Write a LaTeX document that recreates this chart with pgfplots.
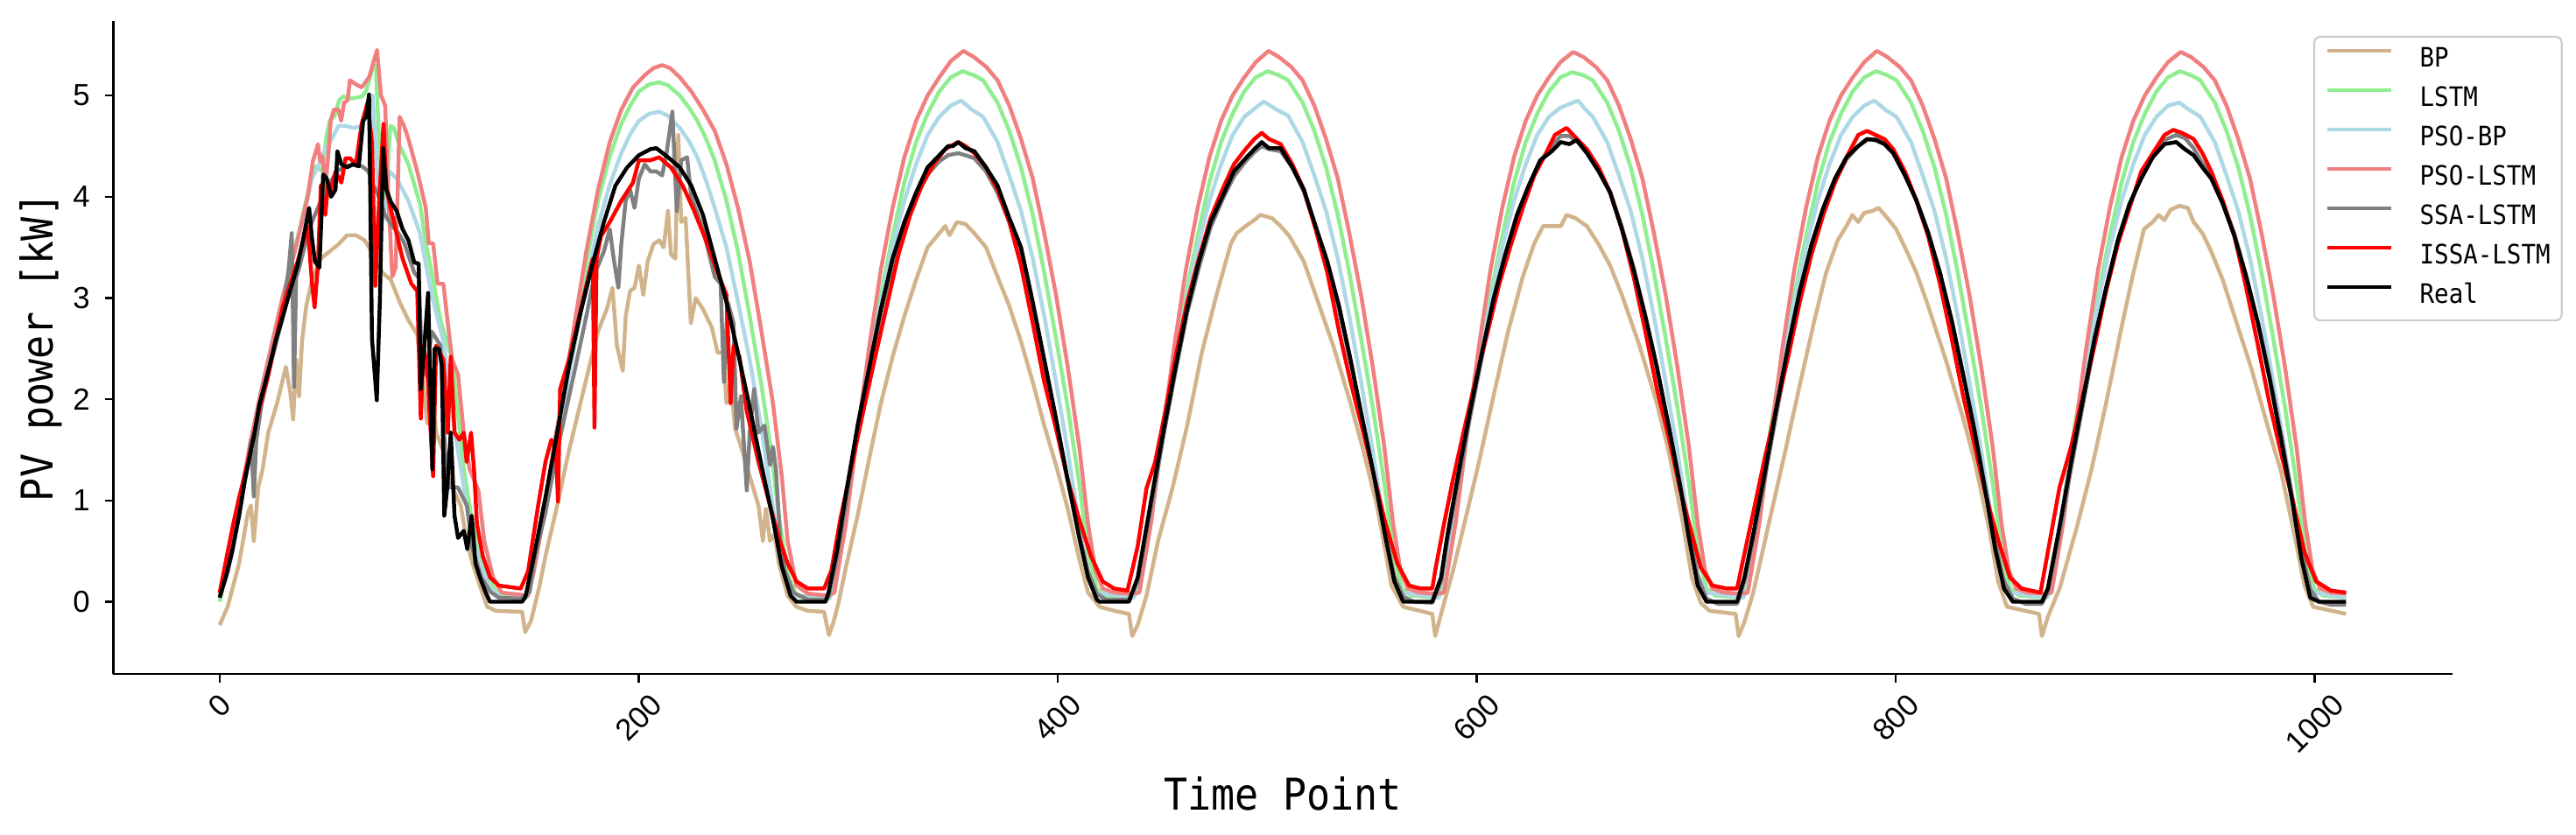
\documentclass[border=0pt]{standalone}
\usepackage{fontspec}
\usepackage{pgfplots}
\pgfplotsset{compat=1.18}
\setmainfont{DejaVu Sans Mono}[FakeStretch=0.9]
\newfontfamily\tickfont{Liberation Sans}
\definecolor{cBP}{HTML}{D2B48C}
\definecolor{cLSTM}{HTML}{90EE90}
\definecolor{cPSOBP}{HTML}{ADD8E6}
\definecolor{cPSOLSTM}{HTML}{F08080}
\definecolor{cSSA}{HTML}{808080}
\definecolor{cISSA}{HTML}{FF0000}
\begin{document}
\begin{tikzpicture}
\useasboundingbox (-46.6pt,-65.9pt) rectangle (1012.5pt,277.2pt);
\begin{axis}[
  at={(0pt,0pt)}, anchor=south west,
  scale only axis, width=961.7pt, height=268.6pt,
  xmin=-50.75, xmax=1065.75, ymin=-0.7135, ymax=5.7365,
  axis x line*=bottom, axis y line*=left,
  axis line style={-, line width=0.8pt, black},
  tick align=outside, major tick length=3.5pt,
  tick style={line width=0.8pt, black},
  xtick={0,200,400,600,800,1000},
  xticklabels={{\rotatebox{45}{0}},{\rotatebox{45}{200}},{\rotatebox{45}{400}},{\rotatebox{45}{600}},{\rotatebox{45}{800}},{\rotatebox{45}{1000}}},
  ytick={0,1,2,3,4,5}, yticklabels={0,1,2,3,4,5},
  xticklabel style={font=\tickfont\fontsize{12.5}{14}\selectfont, anchor=north, inner sep=0pt, yshift=-3.8pt},
  yticklabel style={font=\tickfont\fontsize{12.5}{14}\selectfont, anchor=east, inner sep=0pt, xshift=-5.9pt},
  xlabel={Time Point}, ylabel={PV power [kW]},
  xlabel style={font=\fontsize{18}{20}\selectfont, at={(axis description cs:0.5,-0.1836)}, anchor=center},
  ylabel style={font=\fontsize{18}{20}\selectfont, at={(axis description cs:-0.03088,0.5)}, anchor=center},
  legend style={at={(axis description cs:0.9405,0.9773)}, anchor=north west, draw=black!20, line width=0.8pt,
    rounded corners=2.5pt, fill=white, font=\fontsize{11}{13}\selectfont,
    inner xsep=4.7pt, inner ysep=4.5pt, row sep=5.7pt, column sep=10.8pt,
    nodes={inner sep=0pt, text height=8pt, text depth=2.5pt}},
  legend cell align=left,
  legend image code/.code={\draw[#1] (0pt,3.9pt) -- (26.3pt,3.9pt);},
]
% BP
\addplot[cBP, line width=1.6pt, line join=round] coordinates {
(0,-0.23)(3.8,-0.05)(9.3,0.38)(13.5,0.88)(14.9,0.95)(16.3,0.6)(18.4,1.13)(20.5,1.31)(23.2,1.67)(27.4,1.96)(31.6,2.32)(33.7,2.07)(35.1,1.8)(36.5,2.39)(37.9,2.03)(39.3,2.57)(41.3,2.92)(44.1,3.18)(48.3,3.39)(52.5,3.46)(56.7,3.53)(60.8,3.62)(65,3.62)(69.2,3.57)(73.4,3.43)(77.6,3.25)(81.7,3.18)(85.9,2.96)(90.1,2.78)(94.3,2.64)(96.4,2.28)(99.1,1.76)(101.2,2.1)(103.3,1.67)(106.8,1.49)(111,1.13)(115.1,0.95)(117.9,0.6)(120.7,0.38)(123.5,0.2)(127.7,-0.05)(131.9,-0.09)(144.4,-0.1)(145.8,-0.3)(148.6,-0.19)(152.7,0.16)
(155.5,0.45)(161.1,0.95)(166.7,1.49)(172.2,1.96)(176.4,2.32)(180.6,2.67)(184.8,2.89)(187.5,3.1)(189.6,2.53)(192.4,2.28)(193.8,2.82)(195.9,3.07)(198,3.1)(200.1,3.32)(202.2,3.03)(204.3,3.36)(207,3.53)(209.8,3.57)(211.9,3.5)(214,3.86)(215.4,3.43)(217.5,3.39)(218.9,4.61)(220.3,3.75)(222.4,3.79)(224.9,2.75)(227.2,3.0)(230.7,2.89)(234.9,2.71)(237.7,2.46)(240.5,2.46)(241.9,1.96)(244,2.17)(246,1.71)(249.5,1.49)(253,1.24)(257.2,0.95)(259.3,0.6)(260.7,0.92)(262.7,0.6)(264.8,0.67)(266.9,0.38)(271.1,0.06)(275.3,-0.05)(280.8,-0.09)(288.5,-0.1)(290.8,-0.33)(293,-0.2)(295.5,0.0)
(298.9,0.34)(304.5,0.85)(310.1,1.42)(315.6,1.96)(321.2,2.42)(326.8,2.82)(332.4,3.18)(337.9,3.5)(343.5,3.64)(346.3,3.71)(348.4,3.62)(351.9,3.75)(356,3.73)(360.2,3.64)(365.8,3.5)(371.3,3.21)(376.9,2.92)(382.5,2.57)(388.1,2.17)(393.6,1.74)(399.2,1.35)(404.8,0.92)(410.3,0.42)(414.5,0.09)(420.1,-0.05)(427,-0.09)(434,-0.12)(435.6,-0.34)(438.2,-0.23)
(442.4,0.06)(447.9,0.6)(454.9,1.13)(461.8,1.74)(468.8,2.46)(475.8,3.03)(482.7,3.54)(485.5,3.64)(489.7,3.71)(493.9,3.77)(496.7,3.82)(502.2,3.79)(506.4,3.71)(510.6,3.61)(517.5,3.36)(523.1,3.03)(531.5,2.53)(539.8,1.96)(545.4,1.53)(552.4,0.95)(556.5,0.49)(559.3,0.16)(564.9,-0.05)(578.8,-0.12)(580.2,-0.34)(583,-0.12)
(588.6,0.3)(594.1,0.77)(601.1,1.38)(608,2.03)(615,2.67)(622,3.21)(627.5,3.54)(631.7,3.71)(635.9,3.71)(640.1,3.71)(642.9,3.82)(647,3.79)(652.6,3.71)(658.2,3.53)(663.7,3.32)(669.3,3.03)(677.7,2.53)(686,1.96)(691.6,1.49)(698.5,0.77)(702.7,0.24)(706.9,-0.01)(711.1,-0.09)(723.6,-0.12)(725,-0.34)(727.8,-0.2)
(732,0.09)(740.3,0.85)(747.3,1.49)(754.2,2.14)(761.2,2.78)(766.8,3.25)(772.3,3.57)(776.5,3.71)(779.3,3.82)(782.1,3.75)(784.9,3.84)(789,3.86)(791.8,3.89)(796,3.79)(800.2,3.68)(804.4,3.5)(809.9,3.25)(815.5,2.92)(823.9,2.39)(832.2,1.81)(837.8,1.38)(844.8,0.7)(848.9,0.2)(853.1,-0.05)(868.4,-0.12)(869.8,-0.34)(872.6,-0.15)
(878.2,0.13)(886.5,0.74)(893.5,1.31)(900.4,1.96)(907.4,2.67)(913,3.21)(918.5,3.68)(922.7,3.75)(925.5,3.82)(928.3,3.77)(931.1,3.87)(935.3,3.91)(939.4,3.89)(942.2,3.75)(946.4,3.64)(950.6,3.46)(956.1,3.18)(961.7,2.82)(970.1,2.28)(978.4,1.67)(984,1.28)(990.9,0.6)(995.1,0.16)(999.3,-0.05)(1015,-0.12)
};
\addlegendentry{BP}
% LSTM
\addplot[cLSTM, line width=1.6pt, line join=round] coordinates {
(0,0.0)(5,0.5)(10,1.05)(15,1.6)(20,2.1)(25,2.55)(30,3.0)(35,3.4)(40,3.85)(44,4.2)(46,4.3)(49,4.25)(51,4.6)(52.5,4.75)(55,4.8)(57,4.95)(59,4.99)(63,4.97)(68,4.99)(70,5.05)(72.7,5.25)(74.5,5.3)(76,4.6)(78,3.9)(80,4.2)(81.5,4.7)(83.1,4.68)(86,4.5)(90.1,4.32)(95.6,3.93)(98.4,3.54)(101.2,3.25)(105.4,2.78)(111,2.39)(116.5,1.31)(120.7,0.77)(127.7,0.24)(133.2,0.06)(145,0.03)
(147,0.05)(150,0.35)(155.5,0.95)(161.1,1.65)(165,2.15)(169.4,2.67)(175,3.35)(180.6,3.96)(186.2,4.4)(191.7,4.72)(196,4.9)(200.1,5.04)(205,5.11)(209.8,5.13)(214,5.1)(219.6,5.0)(224,4.88)(228,4.75)(232,4.58)(236.3,4.36)(241.9,3.96)(247.4,3.46)(253,2.82)(258.6,2.14)(262.7,1.56)(266.9,0.85)(271.1,0.27)(275.3,0.06)(280,0.03)(291,0.03)
(293.4,0.16)(298.9,0.95)(304.5,1.74)(310.1,2.39)(315.6,3.03)(321.2,3.61)(326.8,4.14)(332.4,4.54)(337.9,4.82)(343.5,5.04)(349,5.18)(354.6,5.24)(360,5.2)(364.4,5.15)(371.3,4.93)(376.9,4.65)(382.5,4.29)(388.1,3.82)(393.6,3.25)(399.2,2.6)(404.8,1.92)(410.3,1.17)(414.5,0.49)(418.7,0.13)(422.9,0.06)(436,0.04)
(439,0.16)(444.5,0.95)(450.1,1.74)(455.7,2.39)(461.2,3.03)(466.8,3.61)(472.4,4.14)(478,4.54)(483.5,4.82)(489.1,5.04)(494.6,5.18)(500.2,5.24)(505.6,5.2)(510,5.15)(516.9,4.93)(522.5,4.65)(528.1,4.29)(533.7,3.82)(539.2,3.25)(544.8,2.6)(550.4,1.92)(555.9,1.17)(560.1,0.49)(564.3,0.13)(568.5,0.06)(581.6,0.04)
(584.4,0.16)(589.9,0.95)(595.5,1.74)(601.1,2.39)(606.6,3.03)(612.2,3.61)(617.8,4.14)(623.4,4.54)(628.9,4.82)(634.5,5.04)(640,5.18)(645.6,5.23)(651,5.2)(655.4,5.15)(662.3,4.93)(667.9,4.65)(673.5,4.29)(679.1,3.82)(684.6,3.25)(690.2,2.6)(695.8,1.92)(701.3,1.17)(705.5,0.49)(709.7,0.13)(713.9,0.06)(727,0.04)
(729.4,0.16)(734.9,0.95)(740.5,1.74)(746.1,2.39)(751.6,3.03)(757.2,3.61)(762.8,4.14)(768.4,4.54)(773.9,4.82)(779.5,5.04)(785,5.18)(790.6,5.24)(796,5.2)(800.4,5.15)(807.3,4.93)(812.9,4.65)(818.5,4.29)(824.1,3.82)(829.6,3.25)(835.2,2.6)(840.8,1.92)(846.3,1.17)(850.5,0.49)(854.7,0.13)(858.9,0.06)(872,0.04)
(874.4,0.16)(879.9,0.95)(885.5,1.74)(891.1,2.39)(896.6,3.03)(902.2,3.61)(907.8,4.14)(913.4,4.54)(918.9,4.82)(924.5,5.04)(930,5.18)(935.6,5.24)(941,5.2)(945.4,5.15)(952.3,4.93)(957.9,4.65)(963.5,4.29)(969.1,3.82)(974.6,3.25)(980.2,2.6)(985.8,1.92)(991.3,1.17)(995.5,0.49)(999.7,0.13)(1003.9,0.06)(1015,0.04)
};
\addlegendentry{LSTM}
% PSO-BP
\addplot[cPSOBP, line width=1.6pt, line join=round] coordinates {
(0,0.03)(5,0.5)(10,1.05)(15,1.6)(20,2.1)(25,2.55)(30,3.0)(35,3.4)(40,3.8)(44.1,4.18)(47,4.3)(50,4.45)(53,4.55)(56.7,4.7)(60,4.7)(64,4.68)(67.8,4.7)(71.3,4.97)(73,5.0)(75,4.3)(77,3.7)(79,3.9)(81,4.25)(84.5,4.18)(90.1,3.96)(95.6,3.64)(101.2,3.03)(106.8,2.57)(112.4,1.67)(117.9,0.95)(123.5,0.42)(129.1,0.13)(135,0.04)(145,0.04)
(147,0.05)(150,0.38)(155.5,0.95)(161.1,1.62)(165,2.05)(169.4,2.53)(175,3.15)(180.6,3.71)(186.2,4.12)(191.7,4.43)(196,4.62)(200.1,4.75)(205,4.82)(209.8,4.84)(214,4.8)(219.6,4.68)(224,4.55)(228,4.39)(232,4.17)(236.3,3.89)(241.9,3.5)(247.4,2.96)(253,2.39)(258.6,1.71)(262.7,1.13)(266.9,0.52)(271.1,0.16)(275.3,0.06)(291,0.04)
(293.4,0.12)(298.9,0.95)(304.5,1.7)(310.1,2.35)(315.6,2.96)(321.2,3.5)(326.8,3.96)(332.4,4.32)(337.9,4.61)(343.5,4.79)(349,4.9)(353.9,4.95)(359,4.86)(364.4,4.79)(371.3,4.54)(376.9,4.21)(382.5,3.86)(388.1,3.39)(393.6,2.82)(399.2,2.17)(404.8,1.49)(410.3,0.74)(414.5,0.27)(418.7,0.09)(436,0.04)
(439,0.12)(444.5,0.95)(450.1,1.7)(455.7,2.35)(461.2,2.96)(466.8,3.5)(472.4,3.96)(478,4.32)(483.5,4.61)(489.1,4.79)(494.6,4.88)(498.3,4.94)(504.6,4.86)(510,4.8)(516.9,4.54)(522.5,4.21)(528.1,3.86)(533.7,3.39)(539.2,2.82)(544.8,2.17)(550.4,1.49)(555.9,0.74)(560.1,0.27)(564.3,0.09)(581.6,0.04)
(584.4,0.12)(589.9,0.95)(595.5,1.7)(601.1,2.35)(606.6,2.96)(612.2,3.5)(617.8,3.96)(623.4,4.32)(628.9,4.61)(634.5,4.79)(640,4.88)(648.4,4.95)(652,4.86)(655.4,4.79)(662.3,4.54)(667.9,4.21)(673.5,3.86)(679.1,3.39)(684.6,2.82)(690.2,2.17)(695.8,1.49)(701.3,0.74)(705.5,0.27)(709.7,0.09)(727,0.04)
(729.4,0.12)(734.9,0.95)(740.5,1.7)(746.1,2.35)(751.6,2.96)(757.2,3.5)(762.8,3.96)(768.4,4.32)(773.9,4.61)(779.5,4.79)(785,4.9)(789.8,4.95)(795,4.86)(800.4,4.79)(807.3,4.54)(812.9,4.21)(818.5,3.86)(824.1,3.39)(829.6,2.82)(835.2,2.17)(840.8,1.49)(846.3,0.74)(850.5,0.27)(854.7,0.09)(872,0.04)
(874.4,0.12)(879.9,0.95)(885.5,1.7)(891.1,2.35)(896.6,2.96)(902.2,3.5)(907.8,3.96)(913.4,4.32)(918.9,4.61)(924.5,4.79)(930,4.9)(935.3,4.93)(940,4.86)(945.4,4.79)(952.3,4.54)(957.9,4.21)(963.5,3.86)(969.1,3.39)(974.6,2.82)(980.2,2.17)(985.8,1.49)(991.3,0.74)(995.5,0.27)(999.7,0.09)(1015,0.04)
};
\addlegendentry{PSO-BP}
% PSO-LSTM
\addplot[cPSOLSTM, line width=1.6pt, line join=round] coordinates {
(0,0.05)(4,0.3)(9.3,0.95)(14,1.5)(20,2.1)(25,2.55)(30,3.0)(37.2,3.57)(42,4.0)(44.5,4.35)(46.9,4.52)(48,4.35)(49,4.4)(50.5,4.1)(52,4.45)(53,4.75)(54.5,4.86)(56.7,4.86)(58,4.75)(59.4,4.93)(61,4.95)(62.2,5.15)(65,5.11)(67.8,5.08)(71.3,5.18)(73,5.3)(75.1,5.45)(77,5.0)(79,4.9)(80.5,4.0)(82.4,3.21)(84,3.3)(85.9,4.79)(88,4.7)(90.1,4.57)(94.3,4.25)(98.4,3.89)(99.8,3.54)(101.9,3.54)(104,3.14)(106.8,3.14)(108.9,2.75)(111,2.39)(113.8,2.24)(116.5,1.67)(119.3,1.31)(123.5,1.1)(126.3,0.6)(130.5,0.24)(134.6,0.09)(147.2,0.06)
(150,0.3)(155.5,0.95)(160,1.6)(163.9,2.03)(169.4,2.75)(175,3.46)(180.6,4.07)(186.2,4.54)(191.7,4.86)(197.3,5.08)(202.9,5.2)(207,5.27)(211.2,5.3)(215,5.27)(219.6,5.18)(225.1,5.04)(230.7,4.86)(236.3,4.65)(241.9,4.32)(247.4,3.89)(253,3.36)(258.6,2.67)(264.1,1.96)(268.3,1.24)(271.1,0.6)(275.3,0.16)(280.8,0.08)(290.6,0.06)
(293.4,0.09)(298.9,0.77)(304.5,1.67)(310.1,2.53)(315.6,3.28)(321.2,3.89)(326.8,4.39)(332.4,4.75)(337.9,5.0)(343.5,5.18)(349,5.34)(355,5.44)(360,5.38)(366,5.28)(371.3,5.15)(376.9,4.9)(382.5,4.57)(388.1,4.18)(393.6,3.64)(399.2,3.03)(404.8,2.32)(410.3,1.53)(414.5,0.77)(418,0.31)(421.5,0.13)(427,0.09)(434,0.08)
(439,0.09)(444.5,0.77)(450.1,1.67)(455.7,2.53)(461.2,3.28)(466.8,3.89)(472.4,4.39)(478,4.75)(483.5,5.0)(489.1,5.18)(494.6,5.33)(500.6,5.44)(505.6,5.38)(511.6,5.28)(516.9,5.15)(522.5,4.9)(528.1,4.57)(533.7,4.18)(539.2,3.64)(544.8,3.03)(550.4,2.32)(555.9,1.53)(560.1,0.77)(563.6,0.31)(567.1,0.13)(572.6,0.09)(581,0.08)
(584.4,0.09)(589.9,0.77)(595.5,1.67)(601.1,2.53)(606.6,3.28)(612.2,3.89)(617.8,4.39)(623.4,4.75)(628.9,5.0)(634.5,5.18)(640,5.33)(646,5.43)(651,5.38)(657,5.28)(662.3,5.15)(667.9,4.9)(673.5,4.57)(679.1,4.18)(684.6,3.64)(690.2,3.03)(695.8,2.32)(701.3,1.53)(705.5,0.77)(709,0.31)(712.5,0.13)(718,0.09)(726.4,0.08)
(729.4,0.09)(734.9,0.77)(740.5,1.67)(746.1,2.53)(751.6,3.28)(757.2,3.89)(762.8,4.39)(768.4,4.75)(773.9,5.0)(779.5,5.18)(785,5.33)(791,5.44)(796,5.38)(802,5.28)(807.3,5.15)(812.9,4.9)(818.5,4.57)(824.1,4.18)(829.6,3.64)(835.2,3.03)(840.8,2.32)(846.3,1.53)(850.5,0.77)(854,0.31)(857.5,0.13)(863,0.09)(872,0.08)
(874.4,0.09)(879.9,0.77)(885.5,1.67)(891.1,2.53)(896.6,3.28)(902.2,3.89)(907.8,4.39)(913.4,4.75)(918.9,5.0)(924.5,5.18)(930,5.33)(936,5.43)(941,5.38)(947,5.28)(952.3,5.15)(957.9,4.9)(963.5,4.57)(969.1,4.18)(974.6,3.64)(980.2,3.03)(985.8,2.32)(991.3,1.53)(995.5,0.77)(999,0.31)(1002.5,0.13)(1008,0.09)(1015,0.08)
};
\addlegendentry{PSO-LSTM}
% SSA-LSTM
\addplot[cSSA, line width=1.6pt, line join=round] coordinates {
(0,0.05)(5,0.4)(10,0.95)(13,1.3)(15,1.6)(16.3,1.04)(17.5,1.6)(20,1.95)(25,2.4)(30,2.8)(33,3.3)(34.4,3.64)(35.5,2.12)(36.5,3.2)(38,3.3)(41.3,3.57)(44,3.75)(46.9,3.89)(50,4.05)(53,4.15)(56,4.25)(60,4.3)(64,4.32)(68,4.3)(71,4.25)(73.4,4.11)(76,4.0)(78.9,3.82)(82,3.72)(85,3.65)(88,3.55)(92.9,3.25)(95,3.2)(96.5,2.4)(98.5,2.24)(101.2,2.67)(105.4,2.53)(107.5,1.5)(109.6,1.13)(113.7,1.13)(118,0.95)(120.7,0.52)(124.9,0.24)(129.1,0.1)(133.2,0.04)(144,0.03)
(148,0.1)(150,0.4)(155.5,0.88)(161.1,1.49)(169.4,2.28)(175,2.82)(179.2,3.25)(183.4,3.46)(186.2,3.68)(188,3.4)(190.3,3.1)(191.7,3.53)(193.8,3.96)(195.9,4.07)(198,3.89)(200.1,4.18)(202.9,4.32)(205.6,4.25)(208.4,4.25)(211.2,4.21)(213.3,4.43)(216.1,4.84)(218.2,3.86)(220.3,4.36)(223.1,4.39)(225.1,4.0)(230.7,3.68)(236.3,3.21)(239.1,3.14)(240.7,2.17)(242.5,2.96)(245.3,2.75)(246.7,1.71)(248.8,2.03)(251.6,1.1)(253,1.67)(255.1,2.1)(257.2,1.67)(260,1.74)(262.7,1.35)(264.1,1.53)(265.5,1.31)(267.6,0.6)(269.7,0.31)(273.9,0.09)(280.8,0.02)(289.2,0.02)
(290.6,0.05)(294.8,0.45)(298.9,0.98)(304.5,1.68)(310.1,2.28)(315.6,2.85)(321.2,3.33)(326.8,3.7)(332.4,3.99)(337.9,4.22)(343.5,4.35)(347.7,4.41)(352.5,4.43)(356,4.41)(360.2,4.38)(365.8,4.25)(371.3,4.04)(376.9,3.75)(382.5,3.4)(388.1,2.88)(393.6,2.32)(399.2,1.76)(404.8,1.2)(410.3,0.66)(414.5,0.3)(418.7,0.08)(423,0.02)(434,0.02)
(438.2,0.2)(445.1,1.0)(450.7,1.66)(456.3,2.28)(461.8,2.85)(467.4,3.3)(473,3.7)(478.6,3.97)(484.1,4.2)(489.7,4.35)(493.9,4.44)(497.4,4.5)(500.8,4.47)(506.4,4.45)(512,4.29)(517.5,4.05)(523.1,3.7)(528.7,3.33)(534.3,2.88)(539.8,2.36)(545.4,1.8)(551,1.24)(556.5,0.66)(560.7,0.25)(564.9,0.05)(570,0.0)(578.8,-0.01)
(583,0.2)(585.8,0.58)(591.3,1.2)(596.9,1.83)(602.5,2.42)(608,2.95)(613.6,3.4)(619.2,3.8)(624.8,4.1)(630.3,4.35)(635.9,4.5)(640.1,4.6)(644.2,4.6)(647.7,4.55)(652.6,4.45)(658.2,4.27)(663.7,4.05)(669.3,3.7)(674.9,3.3)(680.5,2.82)(686,2.3)(691.6,1.74)(697.2,1.15)(701.3,0.68)(705.5,0.25)(709.7,0.03)(715,-0.02)(724.3,-0.02)
(727.8,0.2)(732,0.62)(737.5,1.22)(743.1,1.86)(748.7,2.48)(754.2,3.02)(759.8,3.5)(765.4,3.86)(771,4.15)(776.5,4.37)(782.1,4.5)(786.3,4.56)(790.4,4.57)(794.6,4.53)(798.8,4.44)(804.4,4.22)(809.9,3.97)(815.5,3.65)(821.1,3.25)(826.7,2.78)(832.2,2.25)(837.8,1.68)(843.4,1.05)(847.5,0.58)(851.7,0.2)(855.9,0.03)(862,-0.02)(869.8,-0.02)
(872.6,0.1)(878.2,0.68)(883.7,1.32)(889.3,1.94)(894.9,2.55)(900.4,3.07)(906,3.54)(911.6,3.92)(917.2,4.2)(922.7,4.42)(928.3,4.56)(933.9,4.61)(938,4.58)(942.2,4.48)(946.4,4.33)(950.6,4.2)(956.1,3.95)(961.7,3.63)(967.3,3.22)(972.9,2.76)(978.4,2.24)(984,1.64)(989.6,1.0)(993.7,0.5)(997.9,0.12)(1002,0.0)(1008,-0.03)(1015,-0.03)
};
\addlegendentry{SSA-LSTM}
% ISSA-LSTM
\addplot[cISSA, line width=1.6pt, line join=round] coordinates {
(0,0.09)(3.8,0.49)(6.5,0.77)(9.3,1.03)(13.5,1.38)(19.1,1.92)(23.2,2.24)(30.2,2.92)(37.2,3.36)(42,3.71)(44.1,3.14)(45.3,2.91)(46.9,3.32)(48.3,4.11)(50.4,3.82)(51.8,4.14)(53.2,4.07)(55.3,4.25)(58.1,4.14)(60.1,4.38)(62.2,4.38)(65,4.32)(67.8,4.72)(70.6,4.93)(72.7,4.54)(74.3,3.12)(76.2,4.0)(78.2,4.72)(79.6,4.07)(82.4,3.82)(85.2,3.57)(87.3,3.39)(91.5,3.14)(94.3,3.07)(96,1.81)(97.3,2.53)(99.1,2.28)(101.9,1.24)(103.3,2.53)(106.8,2.39)(108.9,1.67)(110.3,2.42)(112.1,1.67)(114.4,1.6)(116.5,1.67)(117.9,1.38)(120,1.67)(121.4,1.31)(122.8,0.77)(125.6,0.45)(129.1,0.24)(133.2,0.16)(143.7,0.13)
(147.2,0.3)(152,0.95)(155.5,1.38)(158.3,1.6)(160.5,1.5)(161.5,0.99)(162.5,2.1)(166.7,2.39)(170.8,2.75)(176.4,3.25)(178.1,3.39)(178.9,1.72)(179.9,3.39)(182,3.61)(186.2,3.75)(191.7,3.96)(197.3,4.14)(200.1,4.36)(205.6,4.36)(209.8,4.39)(215.4,4.29)(221,4.11)(226.5,3.86)(232.1,3.57)(237.7,3.25)(241.9,3.03)(243.9,1.96)(245.3,2.53)(248.1,2.42)(251.6,1.88)(257.2,1.38)(262.7,0.95)(266.9,0.63)(271.1,0.38)(275.3,0.2)(280.8,0.13)(288.5,0.13)
(292,0.31)(296.2,0.81)(301.7,1.35)(307.3,1.89)(312.9,2.42)(318.4,2.92)(324,3.43)(329.6,3.82)(335.1,4.11)(340.7,4.32)(346.3,4.47)(352.5,4.54)(356,4.5)(360.2,4.43)(365.8,4.29)(371.3,4.07)(376.9,3.75)(382.5,3.32)(388.1,2.75)(393.6,2.17)(399.2,1.71)(404.8,1.2)(410.3,0.81)(415.9,0.45)(421.5,0.2)(427,0.13)(433.3,0.11)
(436,0.35)(438.2,0.55)(442.4,1.12)(446.5,1.38)(450.7,1.81)(456.3,2.42)(461.8,2.96)(467.4,3.39)(473,3.79)(478.6,4.07)(484.1,4.32)(489.7,4.47)(493.9,4.57)(497.4,4.63)(500.8,4.57)(506.4,4.52)(512,4.32)(517.5,4.07)(523.1,3.68)(528.7,3.25)(534.3,2.67)(539.8,2.17)(545.4,1.71)(551,1.24)(556.5,0.77)(562.1,0.38)(567.7,0.16)(573.2,0.13)(578.8,0.13)
(580.2,0.31)(584.4,0.77)(588.6,1.2)(594.1,1.71)(599.7,2.21)(605.3,2.67)(610.8,3.14)(616.4,3.53)(622,3.89)(627.5,4.21)(633.1,4.43)(637.3,4.61)(642.9,4.68)(647,4.59)(652.6,4.47)(658.2,4.29)(663.7,4.04)(669.3,3.68)(674.9,3.21)(680.5,2.67)(686,2.1)(691.6,1.63)(697.2,1.1)(702.7,0.67)(706.9,0.34)(712.5,0.16)(719.4,0.13)(724.3,0.13)
(726.4,0.34)(732,0.88)(737.5,1.42)(743.1,1.92)(748.7,2.42)(754.2,2.96)(759.8,3.43)(765.4,3.82)(771,4.14)(776.5,4.39)(782.1,4.61)(786.3,4.65)(790.4,4.61)(794.6,4.57)(798.8,4.47)(804.4,4.25)(809.9,3.96)(815.5,3.61)(821.1,3.14)(826.7,2.6)(832.2,2.03)(837.8,1.53)(843.4,1.02)(849,0.6)(854.5,0.24)(860.1,0.13)(869.1,0.09)
(872.6,0.49)(878.2,1.13)(883.7,1.53)(889.3,2.03)(894.9,2.53)(900.4,3.07)(906,3.53)(911.6,3.89)(917.2,4.25)(922.7,4.43)(928.3,4.61)(932.5,4.66)(936.7,4.63)(942.2,4.57)(946.4,4.43)(950.6,4.25)(956.1,3.96)(961.7,3.61)(967.3,3.1)(972.9,2.53)(978.4,1.96)(984,1.46)(989.6,0.99)(995.1,0.49)(1000.7,0.2)(1007.7,0.11)(1015,0.09)
};
\addlegendentry{ISSA-LSTM}
% Real
\addplot[black, line width=1.6pt, line join=round] coordinates {
(0,0.04)(3,0.25)(6,0.5)(9.3,0.85)(12,1.2)(16.3,1.63)(19,1.95)(23.2,2.28)(27,2.6)(30.2,2.82)(34,3.1)(37.2,3.32)(40,3.6)(42.7,3.89)(44,3.6)(45.5,3.36)(47.6,3.3)(49.4,4.22)(51.1,4.18)(53.2,4.0)(55.3,4.07)(56.2,4.45)(58.1,4.32)(60.8,4.29)(63.6,4.32)(66.4,4.3)(68.5,4.75)(69.9,4.79)(71.3,5.01)(72.7,2.6)(75,1.99)(76.5,3.0)(78,4.48)(79.6,4.07)(81.7,3.95)(84.5,3.86)(87.3,3.68)(90.1,3.57)(92.9,3.35)(95,3.34)(96,2.1)(97.7,2.53)(99.5,3.05)(101.5,1.31)(102.6,2.5)(104.7,2.5)(106.1,2.32)(107.2,0.85)(108.5,1.1)(110.3,1.67)(112.1,0.85)(113.8,0.63)(116.5,0.7)(118.2,0.52)(120.3,0.85)(122.1,0.38)(124.2,0.24)(127,0.09)(129,0)(144.4,0)
(146,0.05)(150,0.45)(155.5,1.03)(161.1,1.67)(166.7,2.32)(172.2,2.85)(177.8,3.32)(183.4,3.75)(188.9,4.11)(194.5,4.29)(200.1,4.41)(205.6,4.47)(208.4,4.48)(214,4.39)(219.6,4.29)(225.1,4.11)(230.7,3.82)(236.3,3.39)(241.9,2.96)(247.4,2.46)(253,1.92)(258.6,1.35)(264.1,0.81)(268.3,0.35)(272.5,0.06)(275.3,0)(289.2,0)
(290.6,0.09)(294.8,0.52)(298.9,1.06)(304.5,1.74)(310.1,2.32)(315.6,2.89)(321.2,3.39)(326.8,3.75)(332.4,4.04)(337.9,4.29)(343.5,4.41)(347.7,4.5)(350,4.5)(352.5,4.54)(356,4.48)(360.2,4.45)(365.8,4.29)(371.3,4.11)(376.9,3.79)(382.5,3.5)(388.1,2.96)(393.6,2.39)(399.2,1.81)(404.8,1.2)(410.3,0.63)(414.5,0.24)(418.7,0.02)(420,0)(434,0)
(438.2,0.24)(445.1,1.06)(450.7,1.71)(456.3,2.32)(461.8,2.89)(467.4,3.36)(473,3.75)(478.6,4.0)(484.1,4.25)(489.7,4.38)(493.9,4.47)(497.4,4.54)(500.8,4.48)(506.4,4.48)(512,4.29)(517.5,4.07)(523.1,3.71)(528.7,3.36)(534.3,2.92)(539.8,2.39)(545.4,1.81)(551,1.24)(556.5,0.63)(560.7,0.2)(564.9,0)(578.8,0)
(583,0.24)(585.8,0.63)(591.3,1.27)(596.9,1.89)(602.5,2.46)(608,2.99)(613.6,3.43)(619.2,3.82)(624.8,4.11)(630.3,4.36)(635.9,4.45)(640.1,4.54)(644.2,4.52)(647.7,4.56)(652.6,4.43)(658.2,4.25)(663.7,4.04)(669.3,3.68)(674.9,3.28)(680.5,2.82)(686,2.32)(691.6,1.74)(697.2,1.13)(701.3,0.63)(705.5,0.16)(709.7,0)(724.3,0)
(727.8,0.24)(732,0.67)(737.5,1.27)(743.1,1.92)(748.7,2.53)(754.2,3.07)(759.8,3.53)(765.4,3.89)(771,4.18)(776.5,4.39)(782.1,4.5)(786.3,4.57)(790.4,4.56)(794.6,4.52)(798.8,4.43)(804.4,4.21)(809.9,3.96)(815.5,3.64)(821.1,3.25)(826.7,2.78)(832.2,2.24)(837.8,1.67)(843.4,1.02)(847.5,0.52)(851.7,0.13)(855.9,0)(869.8,0)
(872.6,0.13)(878.2,0.74)(883.7,1.38)(889.3,1.99)(894.9,2.6)(900.4,3.1)(906,3.57)(911.6,3.93)(917.2,4.18)(922.7,4.39)(928.3,4.52)(933.9,4.54)(938,4.47)(942.2,4.41)(946.4,4.29)(950.6,4.18)(956.1,3.93)(961.7,3.61)(967.3,3.21)(972.9,2.75)(978.4,2.21)(984,1.6)(989.6,0.95)(993.7,0.42)(997.9,0.04)(1002,0)(1015,0)
};
\addlegendentry{Real}
\end{axis}
\end{tikzpicture}
\end{document}
